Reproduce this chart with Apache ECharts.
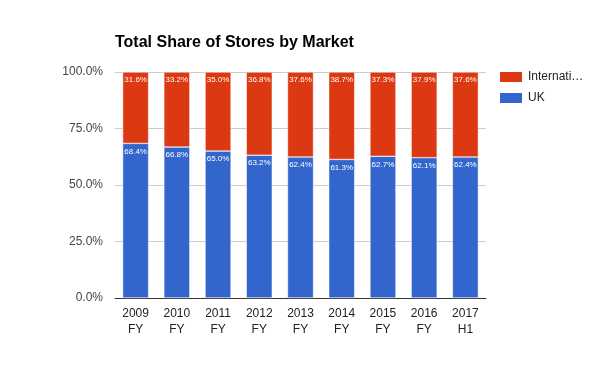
<!DOCTYPE html>
<html><head><meta charset="utf-8">
<script src="https://cdn.jsdelivr.net/npm/echarts@6/dist/echarts.min.js"></script>
<style>html,body{margin:0;padding:0;background:#fff}#c{width:600px;height:371px}</style>
</head><body><div id="c"></div>
<script>
const categories = ["2009\nFY","2010\nFY","2011\nFY","2012\nFY","2013\nFY","2014\nFY","2015\nFY","2016\nFY","2017\nH1"];
const ukValues = [68.4, 66.8, 65.0, 63.2, 62.4, 61.3, 62.7, 62.1, 62.4];
const intlValues = [31.6, 33.2, 35.0, 36.8, 37.6, 38.7, 37.3, 37.9, 37.6];
const yTicks = [0, 25, 50, 75, 100];

const chart = echarts.init(document.getElementById('c'));
const font = 'Arial, "Liberation Sans", sans-serif';
const lbl = {show:true, position:'insideTop', distance:4, color:'#fff', fontSize:8, fontFamily:font,
  formatter: p => p.value.toFixed(1) + '%'};
chart.setOption({
  animation:false,
  title:{text:'Total Share of Stores by Market', left:110, top:30,
    textStyle:{fontFamily:font, fontSize:16, fontWeight:'bold', color:'#000'}},
  grid:{left:115, right:114, top:72, bottom:73},
  legend:{orient:'vertical', left:493, top:65, itemWidth:24, itemHeight:12, itemGap:7,
    data:['International','UK'], icon:'rect',
    textStyle:{fontFamily:font, fontSize:12, color:'#222', width:64, overflow:'truncate', ellipsis:'…'}},
  xAxis:{type:'category', data:categories,
    axisLine:{lineStyle:{color:'#333'}}, axisTick:{show:false},
    axisLabel:{fontFamily:font, fontSize:12, color:'#222', lineHeight:16, margin:8}},
  yAxis:{type:'value', min:yTicks[0], max:yTicks[yTicks.length-1], interval:25,
    axisLine:{show:false}, axisTick:{show:false},
    splitLine:{lineStyle:{color:'#ccc'}},
    axisLabel:{fontFamily:font, fontSize:12, color:'#444', margin:12, formatter:v=>v.toFixed(1)+'%'}},
  series:[
    {name:'UK', type:'bar', stack:'s', data:ukValues, barWidth:'63%',
     itemStyle:{color:'#3366cc', borderColor:'#fff', borderWidth:0.5}, label:lbl},
    {name:'International', type:'bar', stack:'s', data:intlValues, barWidth:'63%',
     itemStyle:{color:'#dc3912', borderColor:'#fff', borderWidth:0.5}, label:lbl}
  ]
});
</script></body></html>
